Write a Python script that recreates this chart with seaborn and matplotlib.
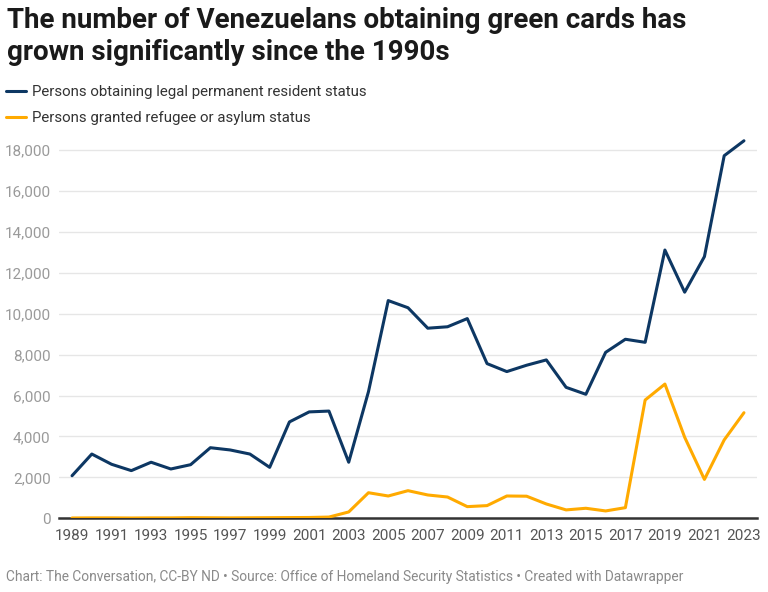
import pandas as pd
import numpy as np
import matplotlib
matplotlib.use("Agg")
import matplotlib.pyplot as plt
import seaborn as sns

# ========== Data ==========
years = list(range(1989, 2024))

permanent_resident = [
    2080, 3140, 2640, 2330, 2740, 2410, 2620, 3450, 3340, 3140,
    2490, 4710, 5200, 5240, 2740, 6190, 10640, 10290, 9290, 9360,
    9760, 7560, 7170, 7480, 7740, 6400, 6060, 8110, 8750, 8600,
    13110, 11050, 12790, 17720, 18450,
]

refugee_asylum = [
    15, 20, 20, 15, 20, 20, 30, 25, 20, 25,
    30, 35, 40, 60, 310, 1250, 1090, 1350, 1140, 1040,
    570, 620, 1090, 1080, 700, 410, 490, 360, 520, 5780,
    6560, 3960, 1900, 3830, 5160,
]

series_names = [
    "Persons obtaining legal permanent resident status",
    "Persons granted refugee or asylum status",
]
series_colors = ["#0d3763", "#ffaa00"]

y_ticks = list(range(0, 18001, 2000))
x_ticks = list(range(1989, 2024, 2))

df = pd.DataFrame({
    "year": years * 2,
    "value": permanent_resident + refugee_asylum,
    "series": [series_names[0]] * len(years) + [series_names[1]] * len(years),
})

# ========== Style ==========
sns.set_style("white")
plt.rcParams["font.family"] = ["Roboto", "DejaVu Sans"]

fig = plt.figure(figsize=(7.68, 5.92), dpi=100)
ax = fig.add_axes([59 / 768, (592 - 518.3) / 592, 698 / 768, 380.6 / 592])

sns.lineplot(data=df, x="year", y="value", hue="series",
             palette=dict(zip(series_names, series_colors)),
             linewidth=2.2, ax=ax, legend=True)

ax.set_xlim(1988.34, 2023.66)
ax.set_ylim(0, 18600)
ax.set_yticks(y_ticks)
ax.set_yticklabels([f"{v:,}" for v in y_ticks])
ax.set_xticks(x_ticks)
ax.set_xticklabels([str(x) for x in x_ticks])
ax.set_xlabel("")
ax.set_ylabel("")

ax.grid(axis="y", color="#e6e6e6", linewidth=1)
ax.grid(axis="x", visible=False)
ax.set_axisbelow(True)
for s in ["top", "right", "left"]:
    ax.spines[s].set_visible(False)
ax.spines["bottom"].set_color("#333333")
ax.spines["bottom"].set_linewidth(1.8)
ax.spines["bottom"].set_zorder(1)

ax.tick_params(axis="y", length=0, pad=6, labelsize=11, labelcolor="#9a9a9a")
ax.tick_params(axis="x", length=0, pad=8, labelsize=11, labelcolor="#555555")

# legend at the top, under the title
handles, labels = ax.get_legend_handles_labels()
ax.get_legend().remove()
fig.legend(handles, labels, loc="upper left", bbox_to_anchor=(0.0, 1 - 79 / 592),
           frameon=False, fontsize=10.8, handlelength=1.3, handletextpad=0.45,
           labelspacing=0.8, borderaxespad=0.0, borderpad=0.4,
           labelcolor="#333333")

# title
fig.text(7 / 768, 1 - 7 / 592,
         "The number of Venezuelans obtaining green cards has\ngrown significantly since the 1990s",
         ha="left", va="top", fontsize=20, fontweight="bold", color="#1a1a1a",
         linespacing=1.25)

# footer
fig.text(6 / 768, 1 - 577 / 592,
         "Chart: The Conversation, CC-BY ND \u2022 Source: Office of Homeland Security Statistics \u2022 Created with Datawrapper",
         ha="left", va="center", fontsize=9.9, color="#8a8a8a")

fig.savefig("out.png", dpi=100)
plt.close(fig)
